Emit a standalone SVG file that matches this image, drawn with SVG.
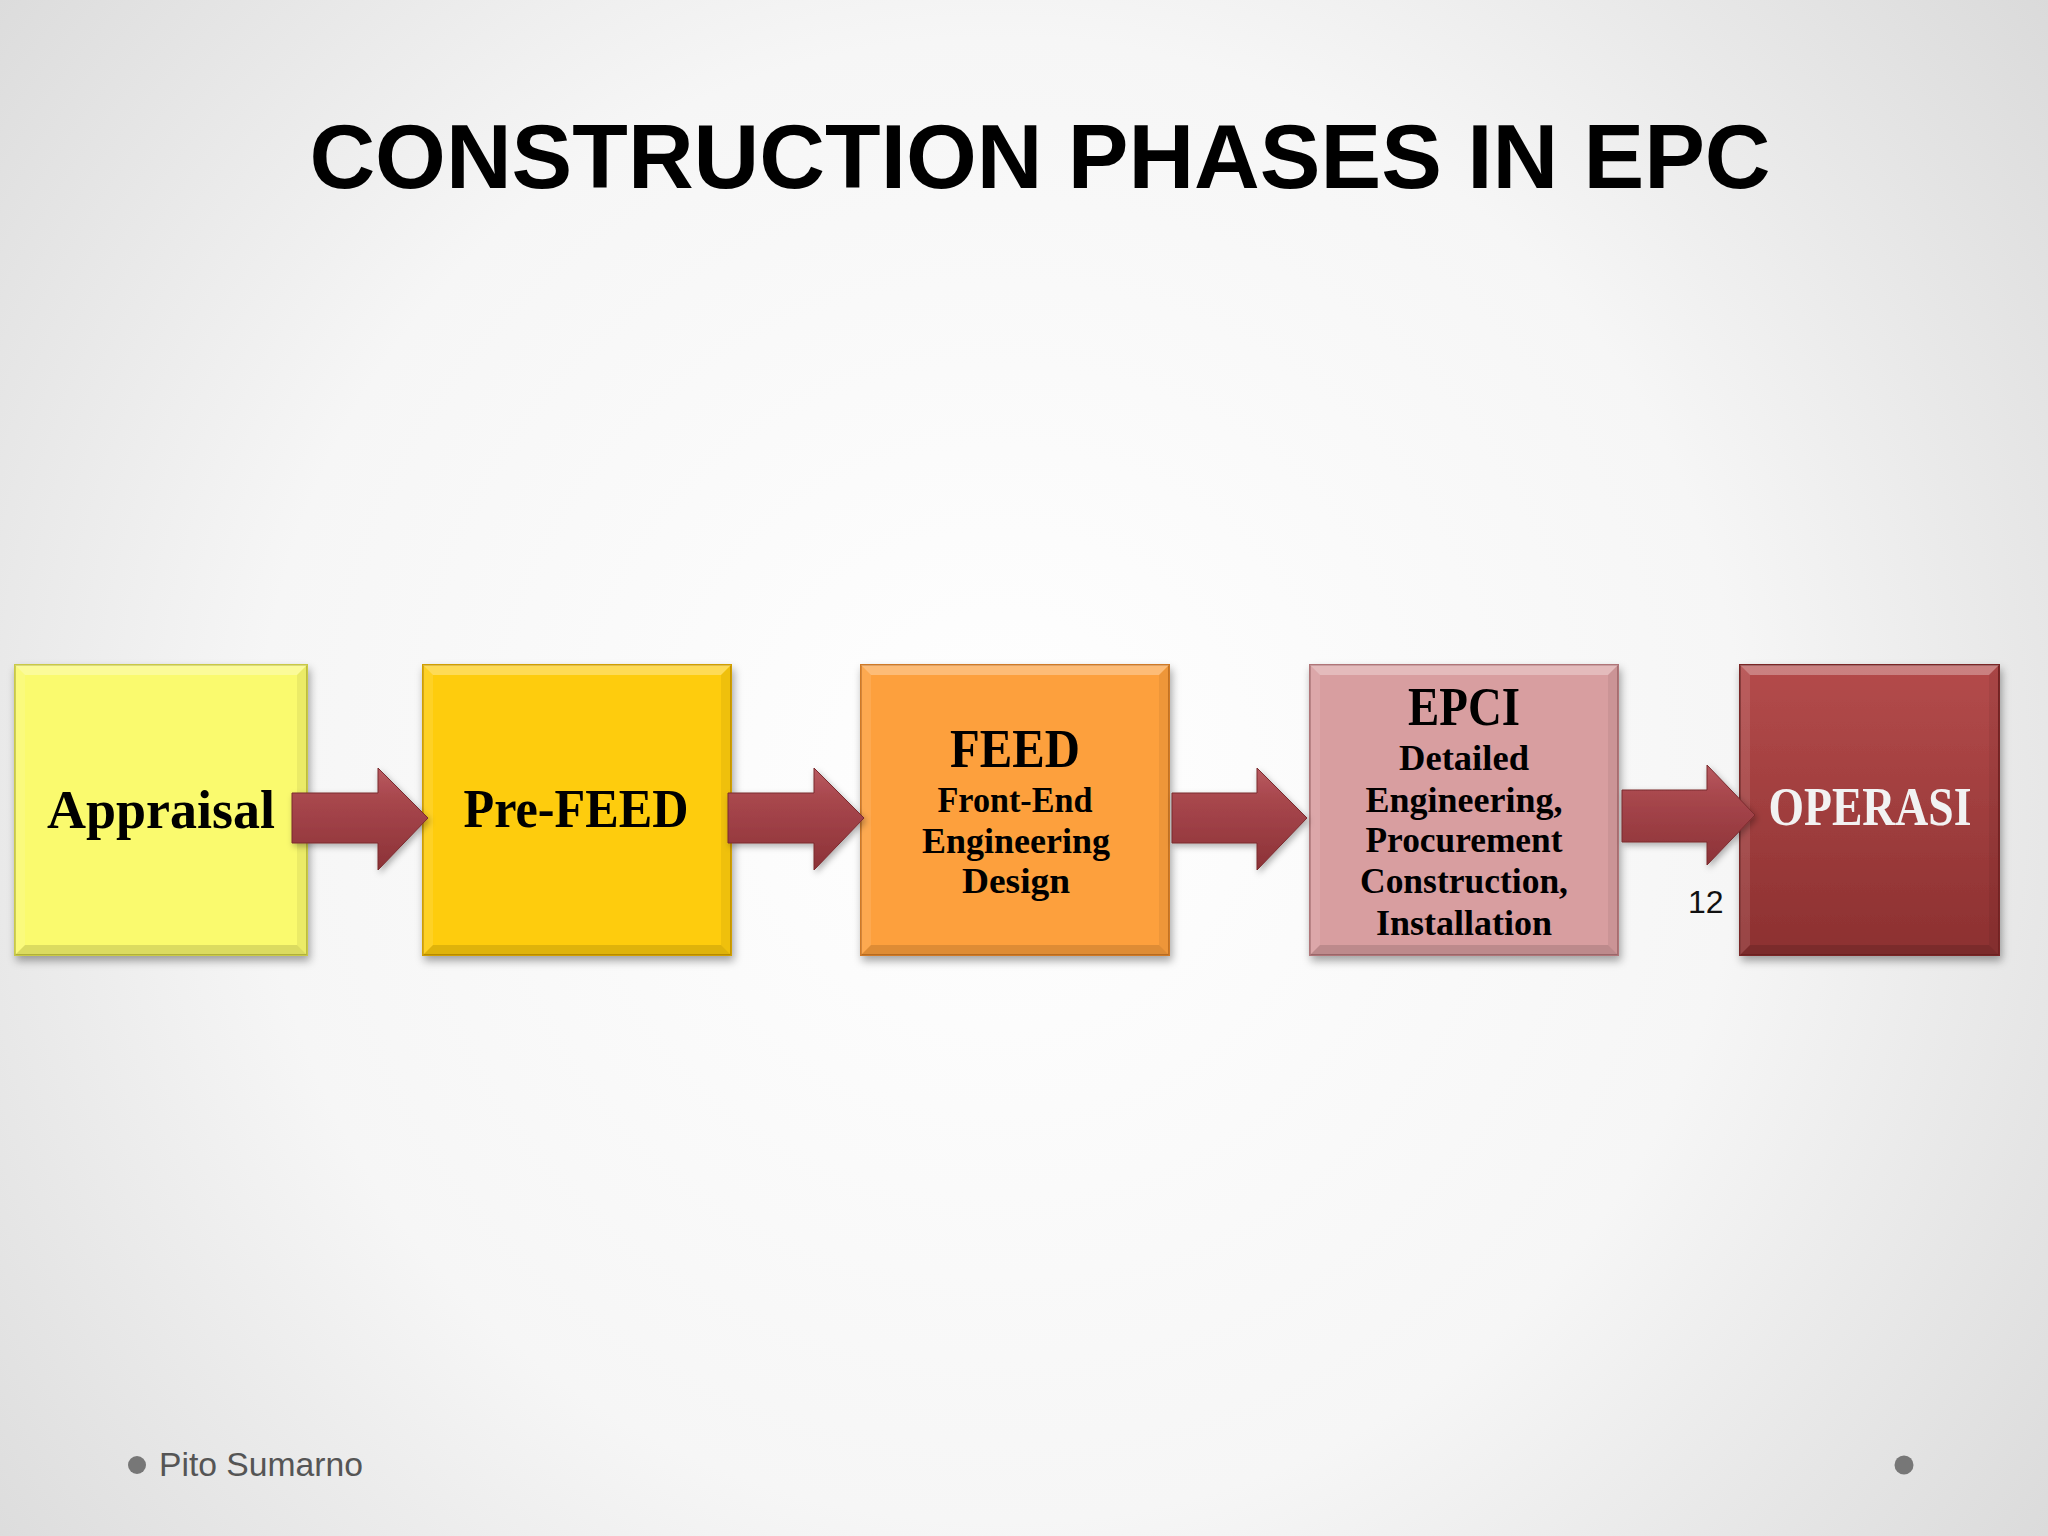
<svg xmlns="http://www.w3.org/2000/svg" width="2048" height="1536" viewBox="0 0 2048 1536">
  <defs>
    <radialGradient id="bg" cx="1000" cy="780" r="1350" gradientUnits="userSpaceOnUse">
      <stop offset="0" stop-color="#ffffff"/>
      <stop offset="0.55" stop-color="#f6f6f6"/>
      <stop offset="1" stop-color="#d8d8d8"/>
    </radialGradient>
    <linearGradient id="arrowGrad" x1="0" y1="0" x2="0" y2="1">
      <stop offset="0" stop-color="#b95a60"/>
      <stop offset="0.3" stop-color="#a8474d"/>
      <stop offset="1" stop-color="#8c3237"/>
    </linearGradient>
    <linearGradient id="operGrad" x1="0" y1="0" x2="0" y2="1">
      <stop offset="0" stop-color="#b44b4b"/>
      <stop offset="0.5" stop-color="#a03e3e"/>
      <stop offset="1" stop-color="#8c3030"/>
    </linearGradient>
    <filter id="shadow" x="-10%" y="-10%" width="125%" height="125%">
      <feDropShadow dx="2" dy="5" stdDeviation="4" flood-color="#000" flood-opacity="0.35"/>
    </filter>
    <filter id="ashadow" x="-10%" y="-20%" width="125%" height="150%">
      <feDropShadow dx="2" dy="3" stdDeviation="3" flood-color="#000" flood-opacity="0.3"/>
    </filter>
  </defs>
  <style>
    .bevT { fill: #ffffff; fill-opacity: 0.3; }
    .bevL { fill: #ffffff; fill-opacity: 0.1; }
    .bevB { fill: #000000; fill-opacity: 0.12; }
    .bevR { fill: #000000; fill-opacity: 0.06; }
    .main { font-family: "Liberation Serif", "Times New Roman", serif; font-weight: bold; font-size: 54px; fill: #000; text-anchor: middle; }
    .sub { font-family: "Liberation Serif", "Times New Roman", serif; font-weight: bold; font-size: 35px; fill: #000; text-anchor: middle; }
    .arrow { fill: url(#arrowGrad); stroke: #7a2a2e; stroke-width: 1; filter: url(#ashadow); }
    .title { font-family: "Liberation Sans", Arial, sans-serif; font-weight: bold; font-size: 91px; fill: #000; text-anchor: middle; }
    .foot { font-family: "Liberation Sans", Arial, sans-serif; font-size: 34px; fill: #555; }
  </style>

  <rect x="0" y="0" width="2048" height="1536" fill="url(#bg)"/>

  <text class="title" x="1040" y="188">CONSTRUCTION PHASES IN EPC</text>

  <g id="node-appraisal">
    <rect x="15" y="665" width="292" height="290" fill="#fafa6e" stroke="#c9c945" stroke-width="2" filter="url(#shadow)"/>
    <polygon class="bevT" points="15,665 307,665 297,675 25,675"/>
    <polygon class="bevL" points="15,665 25,675 25,945 15,955"/>
    <polygon class="bevB" points="15,955 307,955 297,945 25,945"/>
    <polygon class="bevR" points="307,665 297,675 297,945 307,955"/>
    <text class="main" x="161" y="828" textLength="228" lengthAdjust="spacingAndGlyphs">Appraisal</text>
  </g>

  <g id="node-prefeed">
    <rect x="423" y="665" width="308" height="290" fill="#fecc0c" stroke="#d19f00" stroke-width="2" filter="url(#shadow)"/>
    <polygon class="bevT" points="423,665 731,665 721,675 433,675"/>
    <polygon class="bevL" points="423,665 433,675 433,945 423,955"/>
    <polygon class="bevB" points="423,955 731,955 721,945 433,945"/>
    <polygon class="bevR" points="731,665 721,675 721,945 731,955"/>
    <text class="main" x="576" y="827" textLength="225" lengthAdjust="spacingAndGlyphs">Pre-FEED</text>
  </g>

  <g id="node-feed">
    <rect x="861" y="665" width="308" height="290" fill="#fda03c" stroke="#d07a25" stroke-width="2" filter="url(#shadow)"/>
    <polygon class="bevT" points="861,665 1169,665 1159,675 871,675"/>
    <polygon class="bevL" points="861,665 871,675 871,945 861,955"/>
    <polygon class="bevB" points="861,955 1169,955 1159,945 871,945"/>
    <polygon class="bevR" points="1169,665 1159,675 1159,945 1169,955"/>
    <text class="main" x="1015" y="767" textLength="130" lengthAdjust="spacingAndGlyphs">FEED</text>
    <text class="sub" x="1015" y="812" textLength="155" lengthAdjust="spacingAndGlyphs">Front-End</text>
    <text class="sub" x="1016" y="853" textLength="188" lengthAdjust="spacingAndGlyphs">Engineering</text>
    <text class="sub" x="1016" y="893" textLength="108" lengthAdjust="spacingAndGlyphs">Design</text>
  </g>

  <g id="node-epci">
    <rect x="1310" y="665" width="308" height="290" fill="#d89ea0" stroke="#b07578" stroke-width="2" filter="url(#shadow)"/>
    <polygon class="bevT" points="1310,665 1618,665 1608,675 1320,675"/>
    <polygon class="bevL" points="1310,665 1320,675 1320,945 1310,955"/>
    <polygon class="bevB" points="1310,955 1618,955 1608,945 1320,945"/>
    <polygon class="bevR" points="1618,665 1608,675 1608,945 1618,955"/>
    <text class="main" x="1464" y="725" font-size="50" textLength="112" lengthAdjust="spacingAndGlyphs">EPCI</text>
    <text class="sub" x="1464" y="770" textLength="130" lengthAdjust="spacingAndGlyphs">Detailed</text>
    <text class="sub" x="1464" y="812" textLength="197" lengthAdjust="spacingAndGlyphs">Engineering,</text>
    <text class="sub" x="1464" y="852" textLength="197" lengthAdjust="spacingAndGlyphs">Procurement</text>
    <text class="sub" x="1464" y="893" textLength="208" lengthAdjust="spacingAndGlyphs">Construction,</text>
    <text class="sub" x="1464" y="935" textLength="176" lengthAdjust="spacingAndGlyphs">Installation</text>
  </g>

  <g id="node-operasi">
    <rect x="1740" y="665" width="259" height="290" fill="url(#operGrad)" stroke="#7a2626" stroke-width="2" filter="url(#shadow)"/>
    <polygon class="bevT" points="1740,665 1999,665 1989,675 1750,675"/>
    <polygon class="bevL" points="1740,665 1750,675 1750,945 1740,955"/>
    <polygon class="bevB" points="1740,955 1999,955 1989,945 1750,945"/>
    <polygon class="bevR" points="1999,665 1989,675 1989,945 1999,955"/>
    <text class="main" x="1870" y="825" style="fill:#f2f2f2" textLength="203" lengthAdjust="spacingAndGlyphs">OPERASI</text>
  </g>

  <g id="connectors">
    <path class="arrow" d="M292,793 L378,793 L378,768 L428,818 L378,870 L378,843 L292,843 Z"/>
    <path class="arrow" d="M728,793 L814,793 L814,768 L864,818 L814,870 L814,843 L728,843 Z"/>
    <path class="arrow" d="M1172,793 L1257,793 L1257,768 L1307,818 L1257,870 L1257,843 L1172,843 Z"/>
    <path class="arrow" d="M1622,790 L1707,790 L1707,765 L1755,815 L1707,865 L1707,842 L1622,842 Z"/>
  </g>

  <text x="1688" y="913" font-family="Liberation Sans, Arial, sans-serif" font-size="32" fill="#111">12</text>

  <g id="footer">
    <circle cx="137" cy="1465" r="9" fill="#777"/>
    <text class="foot" x="159" y="1476" textLength="204" lengthAdjust="spacingAndGlyphs">Pito Sumarno</text>
    <circle cx="1904" cy="1465" r="9.5" fill="#777"/>
  </g>
</svg>
